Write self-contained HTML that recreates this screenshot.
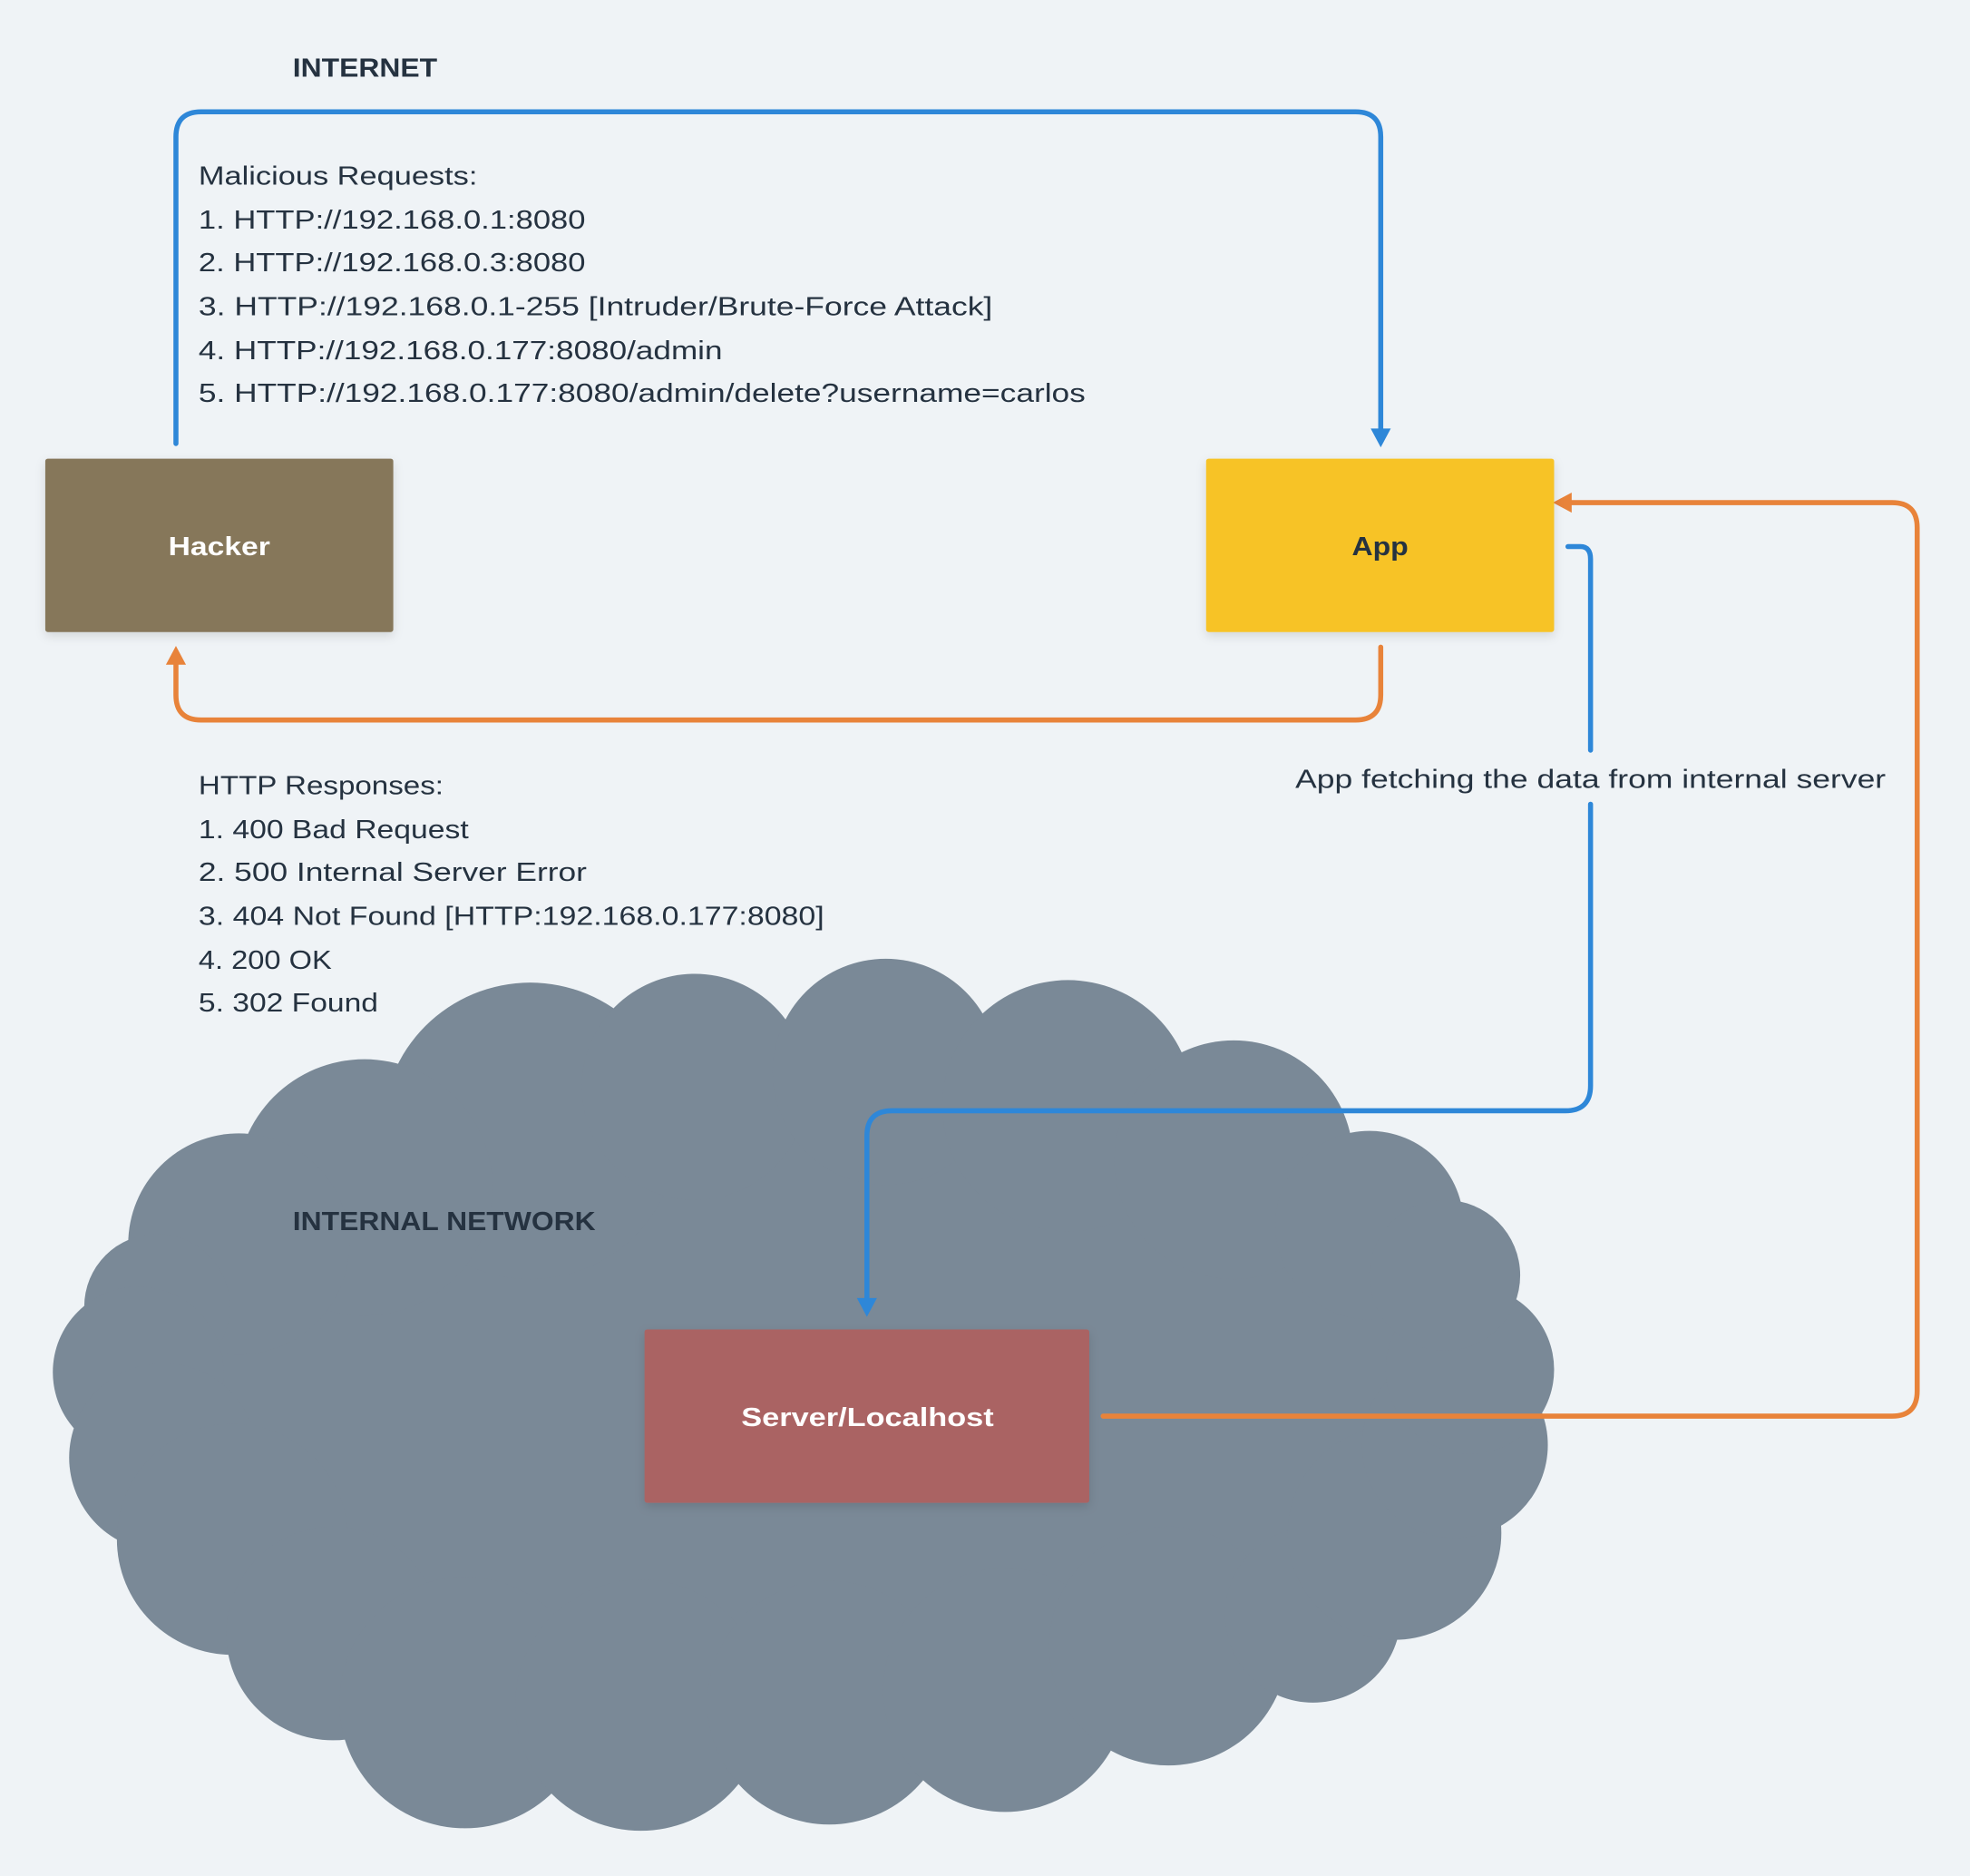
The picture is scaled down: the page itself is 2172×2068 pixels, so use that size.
<!DOCTYPE html>
<html><head><meta charset="utf-8"><style>
html,body{margin:0;padding:0;background:#eff3f6;}
svg{display:block;}
text{font-family:"Liberation Sans","DejaVu Sans",sans-serif;fill:#253240;}
</style></head><body>
<svg width="2172" height="2068" viewBox="0 0 1568 1493" xmlns="http://www.w3.org/2000/svg">
<rect width="1568" height="1493" fill="#eff3f6"/>
<defs><filter id="sh" x="-10%" y="-10%" width="120%" height="130%"><feDropShadow dx="0" dy="3" stdDeviation="4" flood-color="#000" flood-opacity="0.12"/></filter></defs>
<!-- cloud -->
<g fill="#7a8997">
<polygon points="422,900 553,865 705,853 850,880 982,923 1090,975 1150,1015 1170,1090 1158,1150 1110,1220 1045,1285 930,1310 800,1345 660,1355 510,1357 370,1355 265,1300 185,1225 130,1160 110,1092 125,1040 190,990 290,945"/>
<circle cx="422" cy="900" r="118"/><circle cx="553" cy="865" r="90"/><circle cx="705" cy="853" r="90"/>
<circle cx="850" cy="880" r="100"/><circle cx="982" cy="923" r="95"/><circle cx="1090" cy="975" r="75"/>
<circle cx="290" cy="945" r="102"/><circle cx="190" cy="990" r="88"/><circle cx="125" cy="1040" r="58"/>
<circle cx="110" cy="1092" r="68"/><circle cx="130" cy="1160" r="75"/><circle cx="185" cy="1225" r="92"/>
<circle cx="265" cy="1300" r="85"/><circle cx="370" cy="1355" r="100"/><circle cx="510" cy="1357" r="100"/>
<circle cx="660" cy="1355" r="97"/><circle cx="800" cy="1345" r="97"/><circle cx="930" cy="1310" r="95"/>
<circle cx="1045" cy="1285" r="70"/><circle cx="1110" cy="1220" r="85"/><circle cx="1158" cy="1150" r="74"/>
<circle cx="1170" cy="1090" r="67"/><circle cx="1150" cy="1015" r="60"/>
</g>
<!-- connectors -->
<g fill="none" stroke-width="4" stroke-linecap="round">
<path d="M140 353 V109 Q140 89 160 89 H1079 Q1099 89 1099 109 V343" stroke="#2e87d8"/>
<path d="M1099 515 V553 Q1099 573 1079 573 H160 Q140 573 140 553 V527" stroke="#e8833a"/>
<path d="M1248 435 H1258 Q1266 435 1266 445 V597" stroke="#2e87d8"/>
<path d="M1266 640 V864 Q1266 884 1246 884 H710 Q690 884 690 904 V1035" stroke="#2e87d8"/>
<path d="M878 1127 H1506 Q1526 1127 1526 1107 V420 Q1526 400 1506 400 H1249" stroke="#e8833a"/>
</g>
<polygon points="1091,341 1107,341 1099,356" fill="#2e87d8"/>
<polygon points="132,529 148,529 140,514" fill="#e8833a"/>
<polygon points="682,1033 698,1033 690,1048" fill="#2e87d8"/>
<polygon points="1251,392 1251,408 1236,400" fill="#e8833a"/>
<!-- boxes -->
<rect x="36" y="365" width="277" height="138" rx="2" fill="#86775a" filter="url(#sh)"/>
<rect x="960" y="365" width="277" height="138" rx="2" fill="#f7c325" filter="url(#sh)"/>
<rect x="513" y="1058" width="354" height="138" rx="2" fill="#aa6463" filter="url(#sh)"/>
<text x="134" y="442" font-size="21" font-weight="bold" style="fill:#fff" textLength="81" lengthAdjust="spacingAndGlyphs">Hacker</text>
<text x="1076" y="442" font-size="21" font-weight="bold" textLength="45" lengthAdjust="spacingAndGlyphs">App</text>
<text x="590" y="1135" font-size="21" font-weight="bold" style="fill:#fff" textLength="201" lengthAdjust="spacingAndGlyphs">Server/Localhost</text>
<text x="233" y="61" font-size="21" font-weight="bold" textLength="115" lengthAdjust="spacingAndGlyphs">INTERNET</text>
<text x="233" y="979" font-size="21" font-weight="bold" textLength="241" lengthAdjust="spacingAndGlyphs">INTERNAL NETWORK</text>
<g font-size="21">
<text x="158" y="147" textLength="222" lengthAdjust="spacingAndGlyphs">Malicious Requests:</text>
<text x="158" y="182" textLength="308" lengthAdjust="spacingAndGlyphs">1. HTTP://192.168.0.1:8080</text>
<text x="158" y="216" textLength="308" lengthAdjust="spacingAndGlyphs">2. HTTP://192.168.0.3:8080</text>
<text x="158" y="251" textLength="632" lengthAdjust="spacingAndGlyphs">3. HTTP://192.168.0.1-255 [Intruder/Brute-Force Attack]</text>
<text x="158" y="286" textLength="417" lengthAdjust="spacingAndGlyphs">4. HTTP://192.168.0.177:8080/admin</text>
<text x="158" y="320" textLength="706" lengthAdjust="spacingAndGlyphs">5. HTTP://192.168.0.177:8080/admin/delete?username=carlos</text>
<text x="158" y="632" textLength="195" lengthAdjust="spacingAndGlyphs">HTTP Responses:</text>
<text x="158" y="667" textLength="215" lengthAdjust="spacingAndGlyphs">1. 400 Bad Request</text>
<text x="158" y="701" textLength="309" lengthAdjust="spacingAndGlyphs">2. 500 Internal Server Error</text>
<text x="158" y="736" textLength="498" lengthAdjust="spacingAndGlyphs">3. 404 Not Found [HTTP:192.168.0.177:8080]</text>
<text x="158" y="771" textLength="106" lengthAdjust="spacingAndGlyphs">4. 200 OK</text>
<text x="158" y="805" textLength="143" lengthAdjust="spacingAndGlyphs">5. 302 Found</text>
<text x="1031" y="627" textLength="470" lengthAdjust="spacingAndGlyphs">App fetching the data from internal server</text>
</g>
</svg>
</body></html>
